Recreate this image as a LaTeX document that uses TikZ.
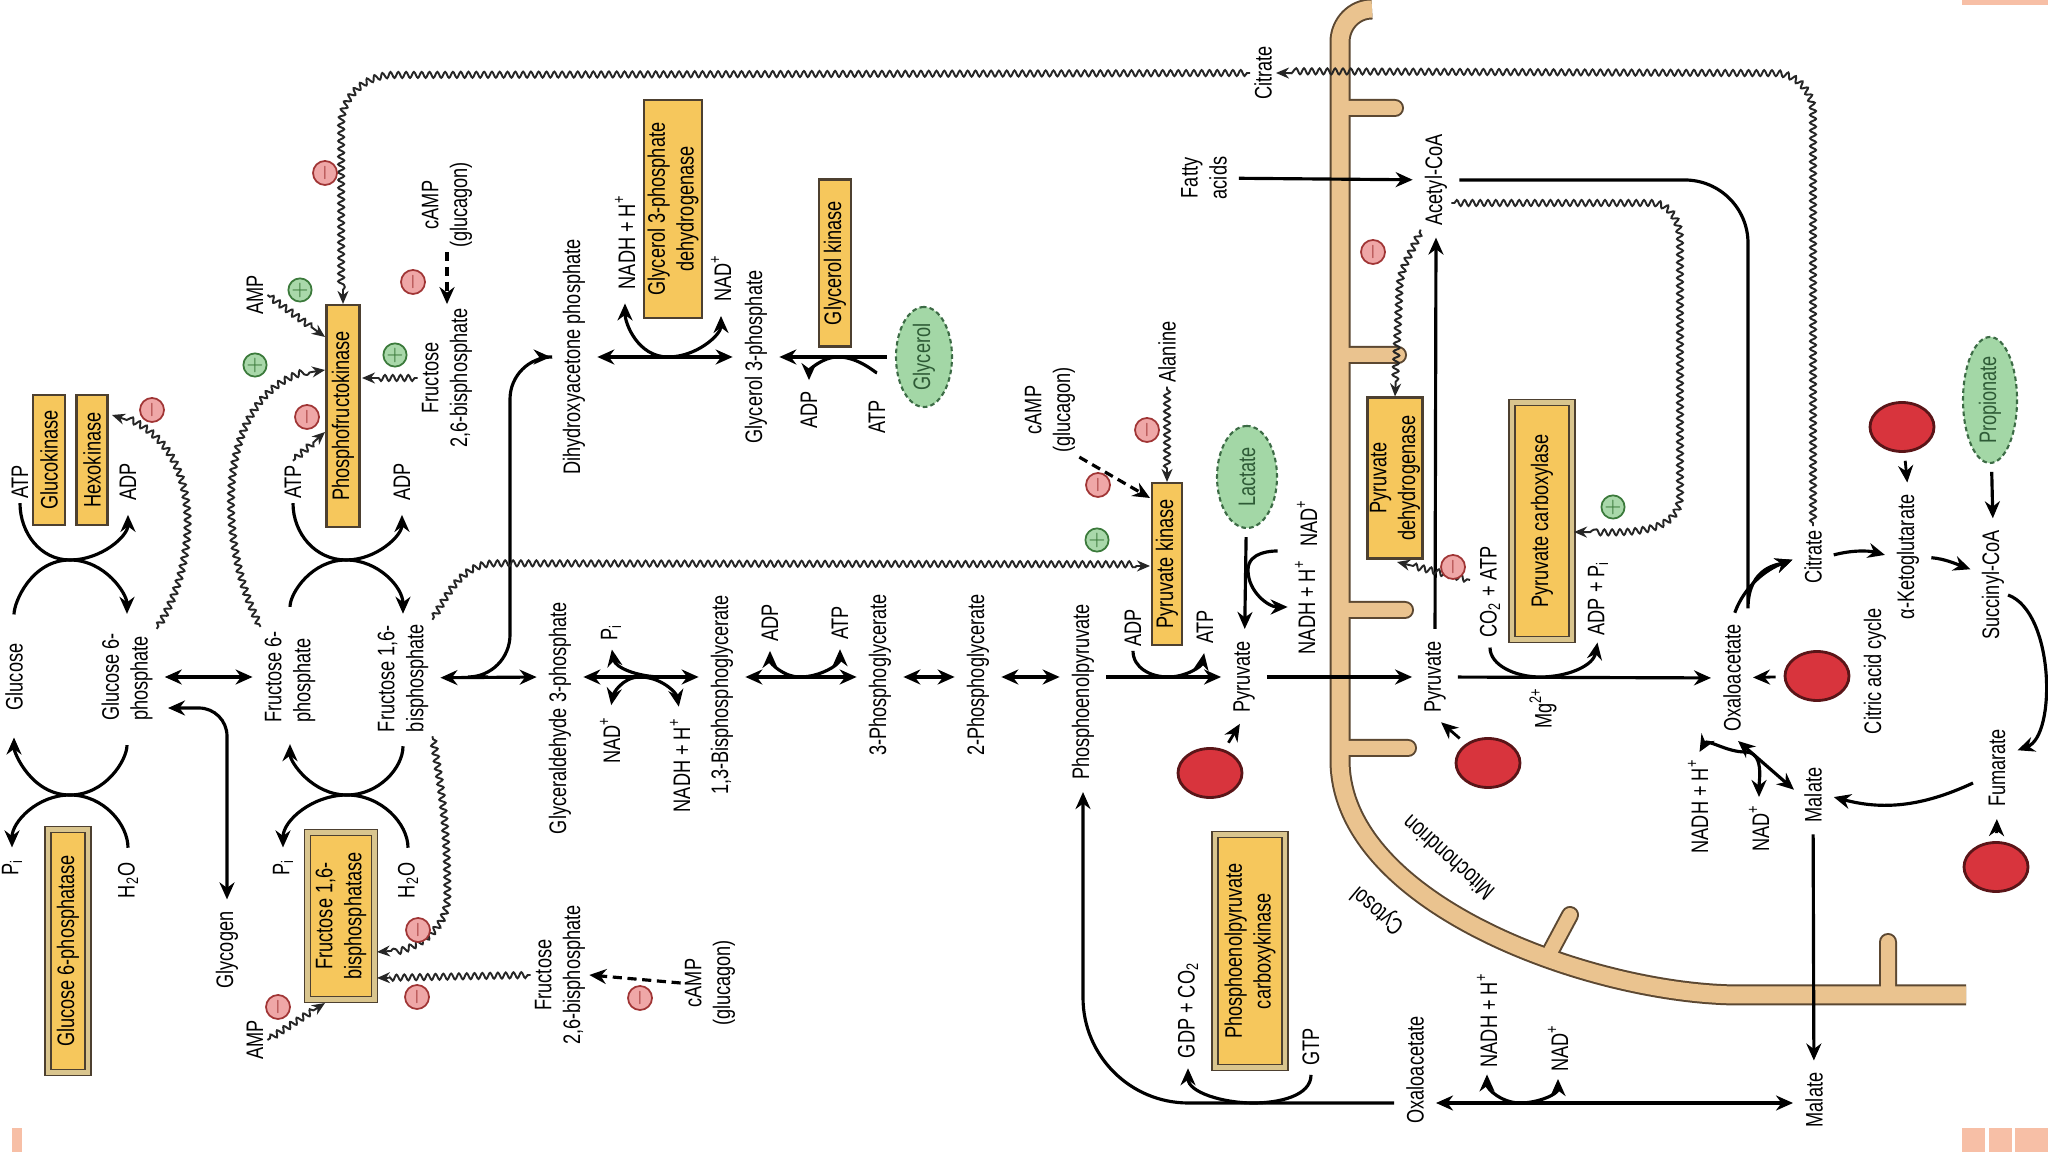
\documentclass[tikz,border=0pt]{standalone}
\usepackage{fontspec}
\setmainfont[FakeStretch=0.76]{Liberation Sans}
\usepackage{tikz}
\usetikzlibrary{arrows.meta, decorations.pathmorphing, shapes.geometric}
\definecolor{enzyellow}{HTML}{F6C75C}
\definecolor{enzline}{HTML}{4D4030}
\definecolor{khaki}{HTML}{D9C58E}
\definecolor{srcgreen}{HTML}{A3D7A6}
\definecolor{srcline}{HTML}{3C6B45}
\definecolor{srctext}{HTML}{2E5A36}
\definecolor{blobred}{HTML}{D8343D}
\definecolor{blobline}{HTML}{5A1518}
\definecolor{inhfill}{HTML}{EFA7A7}
\definecolor{inhline}{HTML}{A03535}
\definecolor{actfill}{HTML}{A9D8AA}
\definecolor{actline}{HTML}{3B7A3B}
\definecolor{membrane}{HTML}{EAC38F}
\definecolor{memline}{HTML}{5C4832}
\definecolor{slide}{HTML}{F7BFA6}

\begin{document}
\begin{tikzpicture}[x=0.1mm, y=-0.1mm,
    >={Stealth[length=1.7mm, width=1.5mm]},
    font=\fontsize{6.8}{8.2}\selectfont,
    met/.style={rotate=90, inner sep=1pt, align=center},
    enz/.style={rotate=90, draw=enzline, fill=enzyellow, line width=0.6pt, inner sep=0.5pt, align=center},
    enzd/.style={enz, line width=0.45pt, double=khaki, double distance=1.3pt},
    inh/.style={circle, rotate=90, draw=inhline, fill=inhfill, line width=0.5pt, minimum size=1.7mm, inner sep=0pt, text=inhline, font=\fontsize{5}{5}\selectfont},
    act/.style={inh, draw=actline, fill=actfill, text=actline},
    blob/.style={ellipse, draw=blobline, fill=blobred, line width=0.8pt, minimum width=6.4mm, minimum height=4.9mm},
    src/.style={ellipse, rotate=90, draw=srcline, fill=srcgreen, line width=0.6pt, dash pattern=on 1.3pt off 0.9pt, inner sep=0pt, text=srctext},
    rxn/.style={line width=0.9pt, shorten >=0.8mm, shorten <=0.8mm},
    cof/.style={line width=0.9pt},
    reg/.style={draw=black!85, line width=0.55pt, decorate, decoration={snake, amplitude=0.3mm, segment length=0.78mm, pre length=0.3mm, post length=1.3mm}, -{Stealth[length=1.3mm, width=1.1mm]}},
    dsh/.style={line width=0.9pt, dash pattern=on 2.6pt off 1.6pt, ->},
    memout/.style={draw=memline, line width=2.1mm},
    memin/.style={draw=membrane, line width=1.7mm}
]
  \useasboundingbox (0,0) rectangle (2048,1152);
  \fill[white] (0,0) rectangle (2048,1152);
  \fill[slide] (1962,0) rectangle (2048,5);
  \fill[slide] (12,1128) rectangle (22,1152);
  \fill[slide] (1962,1128) rectangle (2048,1152);
  \fill[white] (1985,1128) rectangle (1989,1152);
  \fill[white] (2012,1128) rectangle (2015,1152);

  % Mitochondrial membrane
  \draw[memout] (1372,9) to[out=180,in=90] (1340,42) -- (1340,760)
    to[out=-90,in=180,looseness=0.8] (1740,995) -- (1966,995);
  \draw[memout, line width=1.8mm, line cap=round] (1340,108) -- (1395,108) (1340,355) -- (1398,355)
    (1340,610) -- (1405,610) (1340,748) -- (1408,748) (1547,958) -- (1570,915) (1888,995) -- (1888,942);
  \draw[memin] (1372,9) to[out=180,in=90] (1340,42) -- (1340,760)
    to[out=-90,in=180,looseness=0.8] (1740,995) -- (1966,995);
  \draw[memin, line width=1.4mm, line cap=round] (1340,108) -- (1395,108) (1340,355) -- (1398,355)
    (1340,610) -- (1405,610) (1340,748) -- (1408,748) (1547,958) -- (1570,915) (1888,995) -- (1888,942);
  \node[rotate=138] (mito) at (1448,858) {Mitochondrion};
  \node[rotate=140] (cyto) at (1378,910) {Cytosol};

  % Metabolites, cytosol
  \node[met] (glc) at (14,677) {Glucose};
  \node[met, align=left] (g6p) at (127,677) {Glucose 6-\\phosphate};
  \node[met, align=left] (f6p) at (290,677) {Fructose 6-\\phosphate};
  \node[met, align=left] (f16) at (403,678) {Fructose 1,6-\\bisphosphate};
  \node[met] (glycogen) at (227,950) {Glycogen};
  \node[met] (dhap) at (574,357) {Dihydroxyacetone phosphate};
  \node[met] (g3p) at (756,357) {Glycerol 3-phosphate};
  \node[met] (ga3p) at (560,718) {Glyceraldehyde 3-phosphate};
  \node[met] (bpg) at (722,695) {1,3-Bisphosphoglycerate};
  \node[met] (pg3) at (880,675) {3-Phosphoglycerate};
  \node[met] (pg2) at (978,675) {2-Phosphoglycerate};
  \node[met] (pep) at (1083,692) {Phosphoenolpyruvate};
  \node[met] (pyrc) at (1244,677) {Pyruvate};
  \node[met] (oaac) at (1415,1070) {Oxaloacetate};
  \node[met] (malc) at (1814,1100) {Malate};
  \node[met] (cito) at (1263,73) {Citrate};
  \node[met] (fatty) at (1204,178) {Fatty\\acids};
  \node[met] (ala) at (1167,352) {Alanine};
  \node[met] (f26a) at (447,378) {Fructose\\2,6-bisphosphate};
  \node[met] (campa) at (447,205) {cAMP\\(glucagon)};
  \node[met] (f26b) at (560,975) {Fructose\\2,6-bisphosphate};
  \node[met] (campb) at (710,983) {cAMP\\(glucagon)};
  \node[met] (campc) at (1050,410) {cAMP\\(glucagon)};
  \node[met] (amp1) at (255,295) {AMP};
  \node[met] (amp2) at (255,1040) {AMP};

  % Metabolites, mitochondrion
  \node[met] (pyrm) at (1435,677) {Pyruvate};
  \node[met] (accoa) at (1436,180) {Acetyl-CoA};
  \node[met] (oaam) at (1732,678) {Oxaloacetate};
  \node[met] (citm) at (1813,557) {Citrate};
  \node[met] (akg) at (1908,557) {α-Ketoglutarate};
  \node[met] (succ) at (1993,585) {Succinyl-CoA};
  \node[met] (fum) at (1997,768) {Fumarate};
  \node[met] (malm) at (1813,795) {Malate};
  \node[met] (tca) at (1875,671) {Citric acid cycle};

  % Cofactors
  \node[met] (atpa) at (20,482) {ATP};
  \node[met] (adpa) at (128,482) {ADP};
  \node[met] (pia) at (12,867) {P\textsubscript{i}};
  \node[met] (h2oa) at (128,880) {H\textsubscript{2}O};
  \node[met] (atpb) at (293,482) {ATP};
  \node[met] (adpb) at (402,482) {ADP};
  \node[met] (pib) at (283,867) {P\textsubscript{i}};
  \node[met] (h2ob) at (408,880) {H\textsubscript{2}O};
  \node[met] (nadha) at (625,242) {NADH + H\textsuperscript{+}};
  \node[met] (nada) at (721,278) {NAD\textsuperscript{+}};
  \node[met] (adpg) at (809,410) {ADP};
  \node[met] (atpg) at (877,417) {ATP};
  \node[met] (pic) at (611,632) {P\textsubscript{i}};
  \node[met] (nadc) at (610,740) {NAD\textsuperscript{+}};
  \node[met] (nadhc) at (680,765) {NADH + H\textsuperscript{+}};
  \node[met] (adpc) at (770,623) {ADP};
  \node[met] (atpc) at (840,623) {ATP};
  \node[met] (adpd) at (1133,628) {ADP};
  \node[met] (atpd) at (1205,627) {ATP};
  \node[met] (nadd) at (1307,523) {NAD\textsuperscript{+}};
  \node[met] (nadhd) at (1305,607) {NADH + H\textsuperscript{+}};
  \node[met] (co2) at (1490,592) {CO\textsubscript{2} + ATP};
  \node[met] (adpe) at (1598,598) {ADP + P\textsubscript{i}};
  \node[met] (mg) at (1543,708) {Mg\textsuperscript{2+}};
  \node[met] (gdp) at (1188,1010) {GDP + CO\textsubscript{2}};
  \node[met] (gtp) at (1311,1047) {GTP};
  \node[met] (nadhe) at (1487,1020) {NADH + H\textsuperscript{+}};
  \node[met] (nade) at (1558,1048) {NAD\textsuperscript{+}};
  \node[met] (nadhm) at (1698,806) {NADH + H\textsuperscript{+}};
  \node[met] (nadm) at (1759,828) {NAD\textsuperscript{+}};

  % Enzymes
  \node[enz, minimum width=13mm, minimum height=3.2mm] (gk) at (49,460) {Glucokinase};
  \node[enz, minimum width=13mm, minimum height=3.1mm] (hk) at (92,460) {Hexokinase};
  \node[enzd, minimum width=24.3mm, minimum height=4mm] (g6pase) at (68,951) {Glucose 6-phosphatase};
  \node[enz, minimum width=22.2mm, minimum height=3.3mm] (pfk) at (343,416) {Phosphofructokinase};
  \node[enzd, minimum width=16.7mm, minimum height=6.7mm] (fbpase) at (341,916) {Fructose 1,6-\\bisphosphatase};
  \node[enz, minimum width=21.8mm, minimum height=5.8mm] (g3pdh) at (673,209) {Glycerol 3-phosphate\\dehydrogenase};
  \node[enz, minimum width=16.7mm, minimum height=3.2mm] (glk) at (835,263) {Glycerol kinase};
  \node[enz, minimum width=16.2mm, minimum height=3mm] (pk) at (1167,564) {Pyruvate kinase};
  \node[enz, minimum width=16.1mm, minimum height=5.5mm] (pdh) at (1395,478) {Pyruvate\\dehydrogenase};
  \node[enzd, minimum width=23.7mm, minimum height=6mm] (pc) at (1542,521) {Pyruvate carboxylase};
  \node[enzd, minimum width=23.3mm, minimum height=7mm] (pepck) at (1250,951) {Phosphoenolpyruvate\\carboxykinase};

  % Sources
  \node[src, minimum width=10mm, minimum height=5.6mm] (glycerol) at (924,357) {Glycerol};
  \node[src, minimum width=10.2mm, minimum height=6mm] (lactate) at (1247,477) {Lactate};
  \node[src, minimum width=12.6mm, minimum height=5.4mm] (prop) at (1990,400) {Propionate};
  \node[blob] (b1) at (1210,773) {};
  \node[blob] (b2) at (1488,763) {};
  \node[blob] (b3) at (1817,676) {};
  \node[blob] (b4) at (1902,427) {};
  \node[blob] (b5) at (1996,867) {};

  % Named points
  \coordinate (axis) at (0,677);
  \coordinate (lowaxis) at (0,1103);
  \coordinate (hkx) at (70,560);
  \coordinate (g6px) at (70,795);
  \coordinate (pfkx) at (346,560);
  \coordinate (fbpx) at (347,795);
  \coordinate (glyin) at (160,708);
  \coordinate (br) at (488,677);
  \coordinate (dhapc) at (510,357);
  \coordinate (g3pdhx) at (668,357);
  \coordinate (glkx) at (838,357);
  \coordinate (gapx) at (640,677);
  \coordinate (gapy) at (662,677);
  \coordinate (bpgx) at (800,677);
  \coordinate (pkx) at (1168,677);
  \coordinate (lacx) at (1248,570);
  \coordinate (pcx) at (1540,677);
  \coordinate (pepckx) at (1253,1103);
  \coordinate (oaax) at (1520,1103);
  \coordinate (malx) at (1745,752);
  \coordinate (acr) at (1748,180);
  \coordinate (acb) at (1748,545);
  \coordinate (succin) at (1978,572);
  \coordinate (scout) at (2008,595);
  \coordinate (fumin) at (2010,753);
  \coordinate (fumout) at (1973,783);

  % Glucose / glucose 6-phosphate
  \draw[cof, ->, shorten >=1mm] (atpa.west) to[out=-90,in=180] (hkx) to[out=0,in=-90] (adpa.west);
  \draw[cof, ->, shorten <=2.5mm, shorten >=1.5mm] (glc.east) to[out=90,in=180] (hkx) to[out=0,in=90] (g6p.east);
  \draw[cof, ->, shorten <=2mm, shorten >=2.3mm] (g6p.west) to[out=-90,in=0] (g6px) to[out=180,in=-90] (glc.west);
  \draw[cof, ->, shorten <=1mm, shorten >=0.7mm] (h2oa.east) to[out=90,in=0] (g6px) to[out=180,in=90] (pia.east);
  \draw[rxn, <->, rounded corners=8] (glycogen.east) |- (glyin);

  % Fructose 6-phosphate / fructose 1,6-bisphosphate
  \draw[cof, ->, shorten >=1mm] (atpb.west) to[out=-90,in=180] (pfkx) to[out=0,in=-90] (adpb.west);
  \draw[cof, ->, shorten <=2mm, shorten >=0.6mm] (f6p.east) to[out=90,in=180] (pfkx) to[out=0,in=90] (f16.east);
  \draw[cof, ->, shorten <=1mm, shorten >=1.7mm] (f16.west) to[out=-90,in=0] (fbpx) to[out=180,in=-90] (f6p.west);
  \draw[cof, ->, shorten <=1mm, shorten >=0.7mm] (h2ob.east) to[out=90,in=0] (fbpx) to[out=180,in=90] (pib.east);

  % Main chain
  \draw[rxn, <->] (g6p) -- (f6p);
  \draw[rxn, <->] (f16) -- (ga3p.north |- axis);
  \draw[rxn, ->, rounded corners=12, shorten <=0pt] (br) -| (dhapc) -- (dhap.north);
  \draw[rxn, <->] (dhap) -- (g3p);
  \draw[rxn, ->] (glycerol) -- (g3p);
  \draw[rxn, <->] (ga3p.south |- axis) -- (bpg.north |- axis);
  \draw[rxn, <->] (bpg.south |- axis) -- (pg3.north |- axis);
  \draw[rxn, <->] (pg3.south |- axis) -- (pg2.north |- axis);
  \draw[rxn, <->] (pg2.south |- axis) -- (pep.north |- axis);
  \draw[rxn, ->] (pep.south |- axis) -- (pyrc);
  \draw[rxn, ->] (lactate) -- (pyrc);
  \draw[rxn, ->] (pyrc) -- (pyrm);
  \draw[rxn, ->] (pyrm) -- (oaam);
  \draw[rxn, ->] (pyrm.east) -- (accoa.west);
  \draw[rxn, ->] (fatty) -- (accoa);
  \draw[rxn, ->, rounded corners=18] (accoa.south) -- (acr) -- (acb) [sharp corners] to[out=-90,in=200] (citm.north);
  \draw[rxn, ->] (oaam.east) to[out=70,in=200] (citm.north);
  \draw[rxn, ->] (citm.south) to[bend left=15] (akg.north);
  \draw[rxn, ->] (akg.south) to[out=-5,in=160] (succin);
  \draw[rxn, ->, shorten <=0pt] (scout) to[out=-20,in=20,looseness=0.8] (fumin);
  \draw[rxn, ->, shorten <=0pt] (fumout) to[out=-155,in=-15] (malm.south);
  \draw[rxn, <->] (oaam.west) -- (malm.north);
  \draw[rxn, ->] (malm) -- (malc);
  \draw[rxn, <->] (oaac.south |- lowaxis) -- (malc.north |- lowaxis);
  \draw[rxn, ->, rounded corners=30] (oaac.north |- lowaxis) -| (pep.west);
  \draw[rxn, ->] (prop) -- (succ.east);
  \foreach \b/\m in {b1/pyrc.west, b2/pyrm.west, b3/oaam, b4/akg.east, b5/fum.west}
    \draw[rxn, ->, line width=0.8pt] (\b) -- (\m);

  % Cofactor arcs
  \draw[cof, <->, shorten <=1mm, shorten >=1mm] (nadha.west) to[out=-90,in=180] (g3pdhx) to[out=0,in=-90] (nada.west);
  \draw[cof, ->, shorten <=2.3mm, shorten >=0.7mm] (atpg.east) to[out=90,in=0] (glkx) to[out=180,in=90] (adpg.east);
  \draw[cof, <->, shorten <=0.7mm, shorten >=0.7mm] (nadc.east) to[out=80,in=180] (gapx) to[out=0,in=100] (nadhc.east);
  \draw[cof, ->, shorten >=0.5mm] (gapy) to[out=180,in=-80] (pic.west);
  \draw[cof, <->, shorten <=0.5mm, shorten >=0.5mm] (adpc.west) to[out=-90,in=180] (bpgx) to[out=0,in=-90] (atpc.west);
  \draw[cof, ->, shorten >=0.5mm] (adpd.west) to[out=-90,in=180] (pkx) to[out=0,in=-100] (atpd.west);
  \draw[cof, ->, shorten <=1.5mm, shorten >=0.3mm] (nadd.north west) to[out=180,in=90] (lacx) to[out=-90,in=180] (nadhd.north);
  \draw[cof, ->, shorten <=0.6mm, shorten >=0.3mm] (co2.west) to[out=-90,in=180] (pcx) to[out=0,in=-100] (adpe.west);
  \draw[cof, ->, shorten <=0.5mm, shorten >=0.6mm] (gtp.west) to[out=-90,in=0] (pepckx) to[out=180,in=-90] (gdp.west);
  \draw[cof, <->, shorten <=0.3mm, shorten >=0.3mm] (nadhe.west) to[out=-90,in=180] (oaax) to[out=0,in=-90] (nade.west);
  \draw[cof, <->, shorten <=0.3mm, shorten >=0.3mm] (nadhm.east) to[out=60,in=180] (malx) to[out=0,in=90] (nadm.east);

  % Regulation
  \coordinate (hkin) at (112,415);
  \coordinate (pfkin1) at (325,370);
  \coordinate (pfkin2) at (325,337);
  \coordinate (pfkin3) at (325,432);
  \coordinate (pfkin4) at (362,378);
  \coordinate (cc1) at (395,75);
  \coordinate (cc2) at (343,125);
  \coordinate (cr1) at (1813,115);
  \coordinate (cr2) at (1775,75);
  \coordinate (sq1) at (495,565);
  \coordinate (pkin1) at (1150,566);
  \coordinate (pkin2) at (1150,498);
  \coordinate (sq2) at (447,895);
  \coordinate (fbpin1) at (377,952);
  \coordinate (fbpin2) at (377,978);
  \coordinate (fbpin3) at (325,1003);
  \coordinate (sq3) at (1400,290);
  \coordinate (sq4) at (1470,580);
  \coordinate (pdhin) at (1397,562);
  \coordinate (sq5) at (1650,203);
  \coordinate (sq6) at (1678,240);
  \coordinate (sq7) at (1678,495);
  \coordinate (pcin) at (1574,532);

  \draw[reg] (g6p.south east) .. controls (200,560) and (205,440) .. (hkin);
  \draw[reg] (f6p.north east) .. controls (215,540) and (215,380) .. (pfkin1);
  \draw[reg] (amp1.south) -- (pfkin2);
  \draw[reg] (atpb.east) -- (pfkin3);
  \draw[reg] (f26a.north) -- (pfkin4);
  \draw[reg] (cito.north) -- (cc1) to[out=180,in=90] (cc2) -- (pfk.east);
  \draw[reg] (citm.east) -- (cr1) to[out=90,in=0] (cr2) -- (cito.south);
  \draw[reg] (f16.south east) to[out=60,in=180] (sq1) -- (pkin1);
  \draw[reg] (f16.south west) to[out=-80,in=90] (sq2) to[out=-90,in=0] (fbpin1);
  \draw[reg] (f26b.north) -- (fbpin2);
  \draw[reg] (amp2.south) -- (fbpin3);
  \draw[reg] (ala.west) -- (pk.east);
  \draw[reg] (accoa.north west) to[out=-110,in=90] (sq3) -- (pdh.east);
  \draw[reg] (sq4) -- (pdhin);
  \draw[reg] (accoa.south |- sq5) -- (sq5) to[out=0,in=90] (sq6) -- (sq7) to[out=-90,in=0] (pcin);
  \draw[dsh] (campa.west) -- (f26a.east);
  \draw[dsh] (campb.north) -- (f26b.south);
  \draw[dsh] (campc.south west) -- (pkin2);

  \node[inh] (i1) at (152,410) {$-$};
  \node[act] (a1) at (255,365) {$+$};
  \node[act] (a2) at (300,290) {$+$};
  \node[inh] (i2) at (307,417) {$-$};
  \node[act] (a3) at (395,355) {$+$};
  \node[inh] (i3) at (413,282) {$-$};
  \node[inh] (i4) at (325,173) {$-$};
  \node[act] (a4) at (1097,540) {$+$};
  \node[inh] (i5) at (418,930) {$-$};
  \node[inh] (i6) at (417,997) {$-$};
  \node[inh] (i7) at (640,998) {$-$};
  \node[inh] (i8) at (278,1007) {$-$};
  \node[inh] (i9) at (1098,485) {$-$};
  \node[inh] (i10) at (1147,430) {$-$};
  \node[inh] (i11) at (1373,252) {$-$};
  \node[inh] (i12) at (1453,567) {$-$};
  \node[act] (a5) at (1613,507) {$+$};
\end{tikzpicture}
\end{document}
